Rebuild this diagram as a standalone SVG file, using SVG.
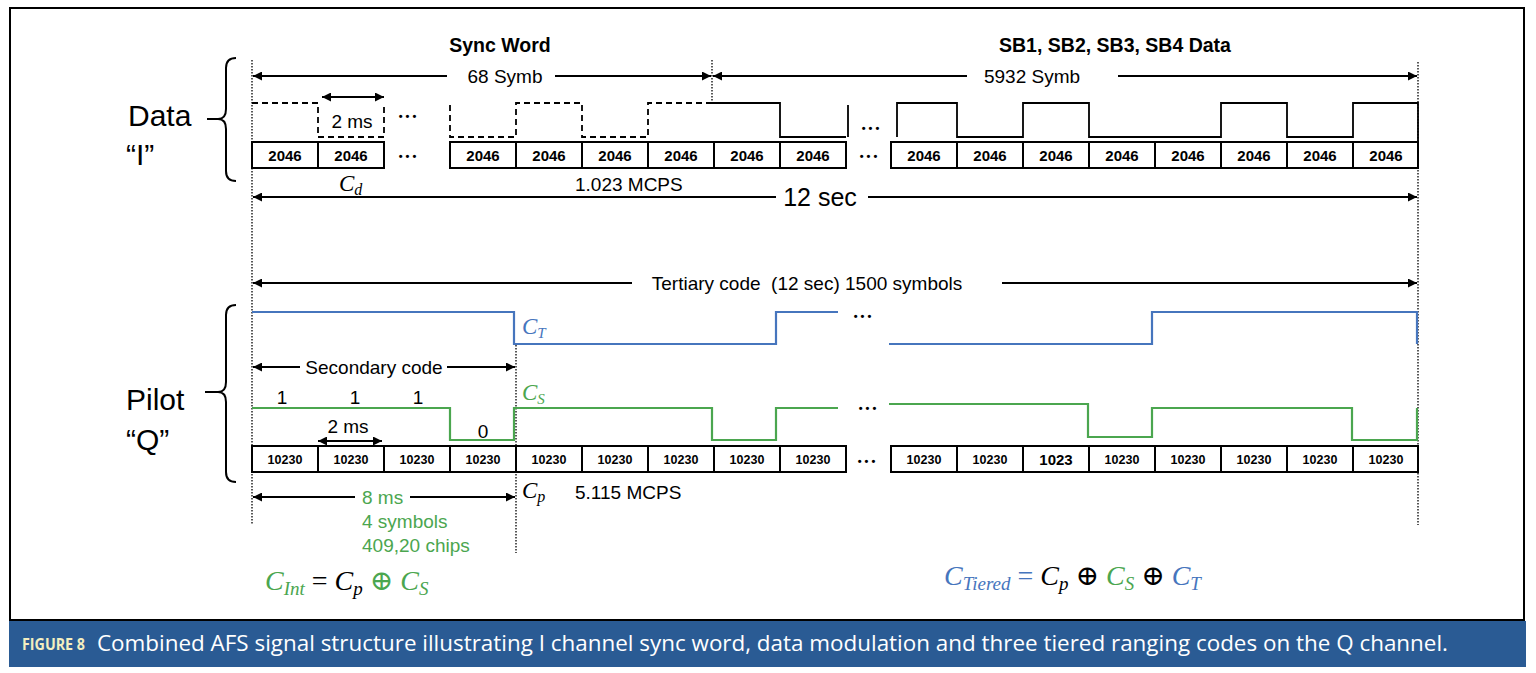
<svg xmlns="http://www.w3.org/2000/svg" width="1536" height="673" viewBox="0 0 1536 673">
<defs>
<marker id="ah" viewBox="0 0 10 10" refX="10" refY="5" markerWidth="11" markerHeight="9" markerUnits="userSpaceOnUse" orient="auto-start-reverse">
<path d="M0,0 L10,5 L0,10 Z" fill="#000"/>
</marker>
<style>
.t{font-family:"Liberation Sans",Arial,sans-serif;fill:#000}
.b{font-weight:bold}
.m{font-family:"Liberation Serif","DejaVu Serif",serif;font-style:italic}
.box{fill:#fff;stroke:#000;stroke-width:2}
.dot{stroke:#000;stroke-width:1.3;stroke-dasharray:1.5 1.5;fill:none}
.arr{stroke:#000;stroke-width:2;fill:none}
.wv{stroke:#000;stroke-width:1.8;fill:none}
.dash{stroke:#000;stroke-width:1.8;fill:none;stroke-dasharray:6 4}
.blue{stroke:#4675bd;stroke-width:2.2;fill:none}
.green{stroke:#4ba64f;stroke-width:2.2;fill:none}
.br{stroke:#000;stroke-width:2;fill:none}
.gt{fill:#4ba64f}
.bt{fill:#4675bd}
</style>
</defs>
<rect x="0" y="0" width="1536" height="673" fill="#fff"/>
<rect x="10" y="8" width="1514" height="612" fill="#fff" stroke="#000" stroke-width="2"/>

<g id="guides">
<line class="dot" x1="252" y1="60" x2="252" y2="525"/>
<line class="dot" x1="1418" y1="62" x2="1418" y2="525"/>
<line class="dot" x1="712" y1="60" x2="712" y2="103"/>
<line class="dot" x1="516" y1="345" x2="516" y2="553"/>
</g>

<g id="data-label">
<text class="t" x="128" y="126" font-size="30">Data</text>
<text class="t" x="126" y="165" font-size="30">“I”</text>
<path class="br" d="M236,58 Q226,58 226,68 V109 Q226,119 218,119 Q226,119 226,129 V171 Q226,181 236,181"/>
<line class="br" x1="207" y1="119" x2="219" y2="119"/>
</g>

<g id="data-headers">
<text class="t b" x="500" y="52" font-size="19.5" text-anchor="middle">Sync Word</text>
<text class="t b" x="1115" y="52" font-size="19.5" text-anchor="middle">SB1, SB2, SB3, SB4 Data</text>
</g>

<g id="connectors">
<line class="arr" x1="447" y1="76" x2="253" y2="76" marker-end="url(#ah)"/>
<line class="arr" x1="555" y1="76" x2="711" y2="76" marker-end="url(#ah)"/>
<line class="arr" x1="967" y1="76" x2="713" y2="76" marker-end="url(#ah)"/>
<line class="arr" x1="1118" y1="76" x2="1417" y2="76" marker-end="url(#ah)"/>
<line class="arr" x1="322" y1="97" x2="384" y2="97" marker-start="url(#ah)" marker-end="url(#ah)"/>
<line class="arr" x1="776" y1="197" x2="253" y2="197" marker-end="url(#ah)"/>
<line class="arr" x1="868" y1="197" x2="1417" y2="197" marker-end="url(#ah)"/>
<line class="arr" x1="632" y1="283" x2="253" y2="283" marker-end="url(#ah)"/>
<line class="arr" x1="1002" y1="283" x2="1417" y2="283" marker-end="url(#ah)"/>
<line class="arr" x1="300" y1="367" x2="253" y2="367" marker-end="url(#ah)"/>
<line class="arr" x1="447" y1="367" x2="515" y2="367" marker-end="url(#ah)"/>
<line class="arr" x1="318" y1="441" x2="382" y2="441" marker-start="url(#ah)" marker-end="url(#ah)"/>
<line class="arr" x1="355" y1="497" x2="253" y2="497" marker-end="url(#ah)"/>
<line class="arr" x1="410" y1="497" x2="515" y2="497" marker-end="url(#ah)"/>
</g>

<g id="data-dims">
<text class="t" x="505" y="83" font-size="19" text-anchor="middle">68 Symb</text>
<text class="t" x="1032" y="83" font-size="19" text-anchor="middle">5932 Symb</text>
<text class="t" x="352" y="128" font-size="19" text-anchor="middle">2 ms</text>
<text class="m" x="339" y="191" font-size="23">C<tspan font-size="16" dy="4">d</tspan></text>
<text class="t" x="575" y="191" font-size="19">1.023 MCPS</text>
<text class="t" x="820" y="206" font-size="25" text-anchor="middle">12 sec</text>
</g>

<g id="data-wave">
<path class="dash" d="M252,103 H318 V137 H384 V103"/>
<path class="dash" d="M450,105 V137 H516 V103 H582 V137 H648 V103 H712"/>
<path class="wv" d="M712,103 H780 V137 H846 M848,105 V137"/>
<path class="wv" d="M897,137 V103 H957 V137 H1023 V103 H1089 V137 H1221 V103 H1287 V137 H1353 V103 H1418 V142"/>
<text class="t b" x="409" y="120" font-size="11" text-anchor="middle" letter-spacing="3">•••</text>
<text class="t b" x="409" y="160" font-size="11" text-anchor="middle" letter-spacing="3">•••</text>
<text class="t b" x="872" y="132" font-size="11" text-anchor="middle" letter-spacing="3">•••</text>
<text class="t b" x="870" y="160" font-size="11" text-anchor="middle" letter-spacing="3">•••</text>
</g>

<g id="data-boxes" class="t b" font-size="15" text-anchor="middle">
<rect class="box" x="252" y="142" width="66" height="26"/><text x="285" y="161">2046</text>
<rect class="box" x="318" y="142" width="66" height="26"/><text x="351" y="161">2046</text>
<rect class="box" x="450" y="142" width="66" height="26"/><text x="483" y="161">2046</text>
<rect class="box" x="516" y="142" width="66" height="26"/><text x="549" y="161">2046</text>
<rect class="box" x="582" y="142" width="66" height="26"/><text x="615" y="161">2046</text>
<rect class="box" x="648" y="142" width="66" height="26"/><text x="681" y="161">2046</text>
<rect class="box" x="714" y="142" width="66" height="26"/><text x="747" y="161">2046</text>
<rect class="box" x="780" y="142" width="66" height="26"/><text x="813" y="161">2046</text>
<rect class="box" x="891" y="142" width="66" height="26"/><text x="924" y="161">2046</text>
<rect class="box" x="957" y="142" width="66" height="26"/><text x="990" y="161">2046</text>
<rect class="box" x="1023" y="142" width="66" height="26"/><text x="1056" y="161">2046</text>
<rect class="box" x="1089" y="142" width="66" height="26"/><text x="1122" y="161">2046</text>
<rect class="box" x="1155" y="142" width="66" height="26"/><text x="1188" y="161">2046</text>
<rect class="box" x="1221" y="142" width="66" height="26"/><text x="1254" y="161">2046</text>
<rect class="box" x="1287" y="142" width="66" height="26"/><text x="1320" y="161">2046</text>
<rect class="box" x="1353" y="142" width="65" height="26"/><text x="1386" y="161">2046</text>
</g>

<g id="pilot-label">
<text class="t" x="126" y="410" font-size="30">Pilot</text>
<text class="t" x="126" y="450" font-size="30">“Q”</text>
<path class="br" d="M236,305 Q226,305 226,315 V382 Q226,392 218,392 Q226,392 226,402 V472 Q226,482 236,482"/>
<line class="br" x1="205" y1="392" x2="219" y2="392"/>
</g>

<g id="tertiary">
<text class="t" x="807" y="290" font-size="19" text-anchor="middle" xml:space="preserve" style="white-space:pre">Tertiary code  (12 sec) 1500 symbols</text>
<path class="blue" d="M252,312 H514 V344 H776 V312 H838"/>
<path class="blue" d="M889,344 H1152 V312 H1417 V344"/>
<text class="t b" x="864" y="320" font-size="11" text-anchor="middle" letter-spacing="3">•••</text>
<text class="m bt" x="522" y="334" font-size="23">C<tspan font-size="15" dy="4">T</tspan></text>
</g>

<g id="secondary">
<text class="t" x="374" y="374" font-size="19" text-anchor="middle">Secondary code</text>
<text class="m gt" x="522" y="400" font-size="23">C<tspan font-size="15" dy="4">S</tspan></text>
<text class="t" x="282" y="404" font-size="19" text-anchor="middle">1</text>
<text class="t" x="355" y="404" font-size="19" text-anchor="middle">1</text>
<text class="t" x="418" y="404" font-size="19" text-anchor="middle">1</text>
<text class="t" x="483" y="438" font-size="19" text-anchor="middle">0</text>
<text class="t" x="348" y="433" font-size="19" text-anchor="middle">2 ms</text>
<path class="green" d="M252,408 H450 V440 H514 V408 H712 V440 H776 V408 H838"/>
<path class="green" d="M889,404 H1088 V437 H1152 V408 H1352 V440 H1417 V408"/>
<text class="t b" x="869" y="412" font-size="11" text-anchor="middle" letter-spacing="3">•••</text>
</g>

<g id="pilot-boxes" class="t b" font-size="12.5" text-anchor="middle">
<rect class="box" x="252" y="446" width="66" height="26"/><text x="285" y="464">10230</text>
<rect class="box" x="318" y="446" width="66" height="26"/><text x="351" y="464">10230</text>
<rect class="box" x="384" y="446" width="66" height="26"/><text x="417" y="464">10230</text>
<rect class="box" x="450" y="446" width="66" height="26"/><text x="483" y="464">10230</text>
<rect class="box" x="516" y="446" width="66" height="26"/><text x="549" y="464">10230</text>
<rect class="box" x="582" y="446" width="66" height="26"/><text x="615" y="464">10230</text>
<rect class="box" x="648" y="446" width="66" height="26"/><text x="681" y="464">10230</text>
<rect class="box" x="714" y="446" width="66" height="26"/><text x="747" y="464">10230</text>
<rect class="box" x="780" y="446" width="66" height="26"/><text x="813" y="464">10230</text>
<rect class="box" x="891" y="446" width="66" height="26"/><text x="924" y="464">10230</text>
<rect class="box" x="957" y="446" width="66" height="26"/><text x="990" y="464">10230</text>
<rect class="box" x="1023" y="446" width="66" height="26"/><text x="1056" y="465" font-size="15">1023</text>
<rect class="box" x="1089" y="446" width="66" height="26"/><text x="1122" y="464">10230</text>
<rect class="box" x="1155" y="446" width="66" height="26"/><text x="1188" y="464">10230</text>
<rect class="box" x="1221" y="446" width="66" height="26"/><text x="1254" y="464">10230</text>
<rect class="box" x="1287" y="446" width="66" height="26"/><text x="1320" y="464">10230</text>
<rect class="box" x="1353" y="446" width="65" height="26"/><text x="1386" y="464">10230</text>
<text x="868" y="465" font-size="11" letter-spacing="3">•••</text>
</g>

<g id="pilot-dims">
<text class="m" x="522" y="498" font-size="23" fill="#000">C<tspan font-size="16" dy="4">p</tspan></text>
<text class="t" x="575" y="499" font-size="19">5.115 MCPS</text>
<text class="t" x="362" y="504" font-size="19" style="fill:#4ba64f">8 ms</text>
<text class="t" x="362" y="528" font-size="19" style="fill:#4ba64f">4 symbols</text>
<text class="t" x="362" y="552" font-size="19" style="fill:#4ba64f">409,20 chips</text>
</g>

<g id="formulas">
<text class="m" x="265" y="590" font-size="28"><tspan class="gt">C</tspan><tspan class="gt" font-size="19" dy="5">Int</tspan><tspan dy="-5" font-style="normal"> = </tspan><tspan>C</tspan><tspan font-size="19" dy="5">p</tspan><tspan dy="-5" class="gt" font-style="normal"> ⊕ </tspan><tspan class="gt">C</tspan><tspan class="gt" font-size="19" dy="5">S</tspan></text>
<text class="m" x="944" y="585" font-size="28"><tspan class="bt">C</tspan><tspan class="bt" font-size="19" dy="5">Tiered</tspan><tspan dy="-5" class="bt" font-style="normal"> = </tspan><tspan>C</tspan><tspan font-size="19" dy="5">p</tspan><tspan dy="-5" font-style="normal"> ⊕ </tspan><tspan class="gt">C</tspan><tspan class="gt" font-size="19" dy="5">S</tspan><tspan dy="-5" font-style="normal"> ⊕ </tspan><tspan class="bt">C</tspan><tspan class="bt" font-size="19" dy="5">T</tspan></text>
</g>

<g id="caption">
<rect x="9" y="621" width="1517" height="46" fill="#2a5b94"/>
<text x="22" y="650" font-family="'Open Sans','Liberation Sans',sans-serif" font-weight="bold" font-size="16" fill="#f3eec0" textLength="63" lengthAdjust="spacingAndGlyphs">FIGURE 8</text>
<text x="97" y="651" font-family="'Open Sans','Liberation Sans',sans-serif" font-size="21" fill="#fff" textLength="1351" lengthAdjust="spacingAndGlyphs">Combined AFS signal structure illustrating I channel sync word, data modulation and three tiered ranging codes on the Q channel.</text>
</g>
</svg>
